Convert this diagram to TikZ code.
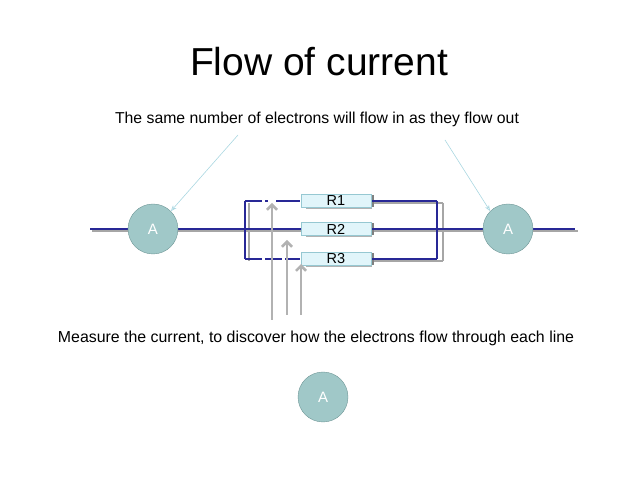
\documentclass[tikz,border=0pt]{standalone}
\usepackage{fontspec}
\setmainfont{Liberation Sans}
\usetikzlibrary{arrows.meta}
\begin{document}
\begin{tikzpicture}[x=1pt,y=-1pt,
 wire/.style={draw={rgb,255:red,40;green,40;blue,150},line width=2pt},
 shadow/.style={draw=gray!70,line width=1.5pt},
 amm/.style={circle,draw={rgb,255:red,110;green,150;blue,150},fill={rgb,255:red,160;green,200;blue,200},minimum size=50pt,text=white,font=\fontsize{15}{15}\selectfont},
 res/.style={draw={rgb,255:red,150;green,200;blue,210},fill={rgb,255:red,225;green,245;blue,250},minimum width=70pt,minimum height=13pt,inner sep=0pt,font=\fontsize{14.5}{14.5}\selectfont},
 note/.style={draw={rgb,255:red,170;green,215;blue,225},-{Stealth[length=6pt,open]},line width=0.6pt},
 up/.style={draw=gray!60,line width=2.5pt,-{Straight Barb[length=5pt]}}]
\useasboundingbox (0,0) rectangle (638,478);
\node (title) at (319,62) {\fontsize{39}{39}\selectfont Flow of current};
\node (sub) at (317,119) {\fontsize{15.8}{15.8}\selectfont The same number of electrons will flow in as they flow out};
\node (meas) at (316,338) {\fontsize{15.9}{15.9}\selectfont Measure the current, to discover how the electrons flow through each line};
% shadows
\draw[shadow] (92,231) -- (578,231);
\draw[shadow] (249,203) -- (249,261);
\draw[shadow] (443,203) -- (443,261);
\draw[shadow] (372,203) -- (443,203) (372,261) -- (443,261);
\foreach \y in {201,229,259}{\fill[gray] (366,\y-6) rectangle (374,\y+6);
 \draw[gray!60,line width=1pt] (306,\y+8) -- (372,\y+8);}
% wires
\coordinate (L1) at (245,201); \coordinate (L3) at (245,259);
\coordinate (R1e) at (437,201); \coordinate (R3e) at (437,259);
\draw[wire] (L1) -- (L3) (R1e) -- (R3e);
\draw[wire] (90,229) -- (575,229);
\draw[wire] (L1) -- (262,201) (L3) -- (262,259);
\draw[wire] (265,259) -- (282,259) (285,259) -- (300,259);
\draw[wire] (370,201) -- (R1e) (370,259) -- (R3e);
\draw[wire] (265,201) -- (268,201) (276,201) -- (300,201);
\node[res] (r1) at (336,201) {R1};
\node[res] (r2) at (336,229) {R2};
\node[res] (r3) at (336,259) {R3};
\node[amm] (a1) at (153,229) {A};
\node[amm] (a2) at (508,229) {A};
\node[amm] (a3) at (323,397) {A};
\coordinate (u1) at (272,320); \coordinate (u2) at (287,315); \coordinate (u3) at (301,315);
\draw[up] (u1) -- (272,203);
\draw[up] (u2) -- (287,240);
\draw[up] (u3) -- (301,264);
\coordinate (n1) at (238,135); \coordinate (n2) at (445,140);
\draw[note] (n1) -- (a1.north east);
\draw[note] (n2) -- (a2.north west);
\end{tikzpicture}
\end{document}
